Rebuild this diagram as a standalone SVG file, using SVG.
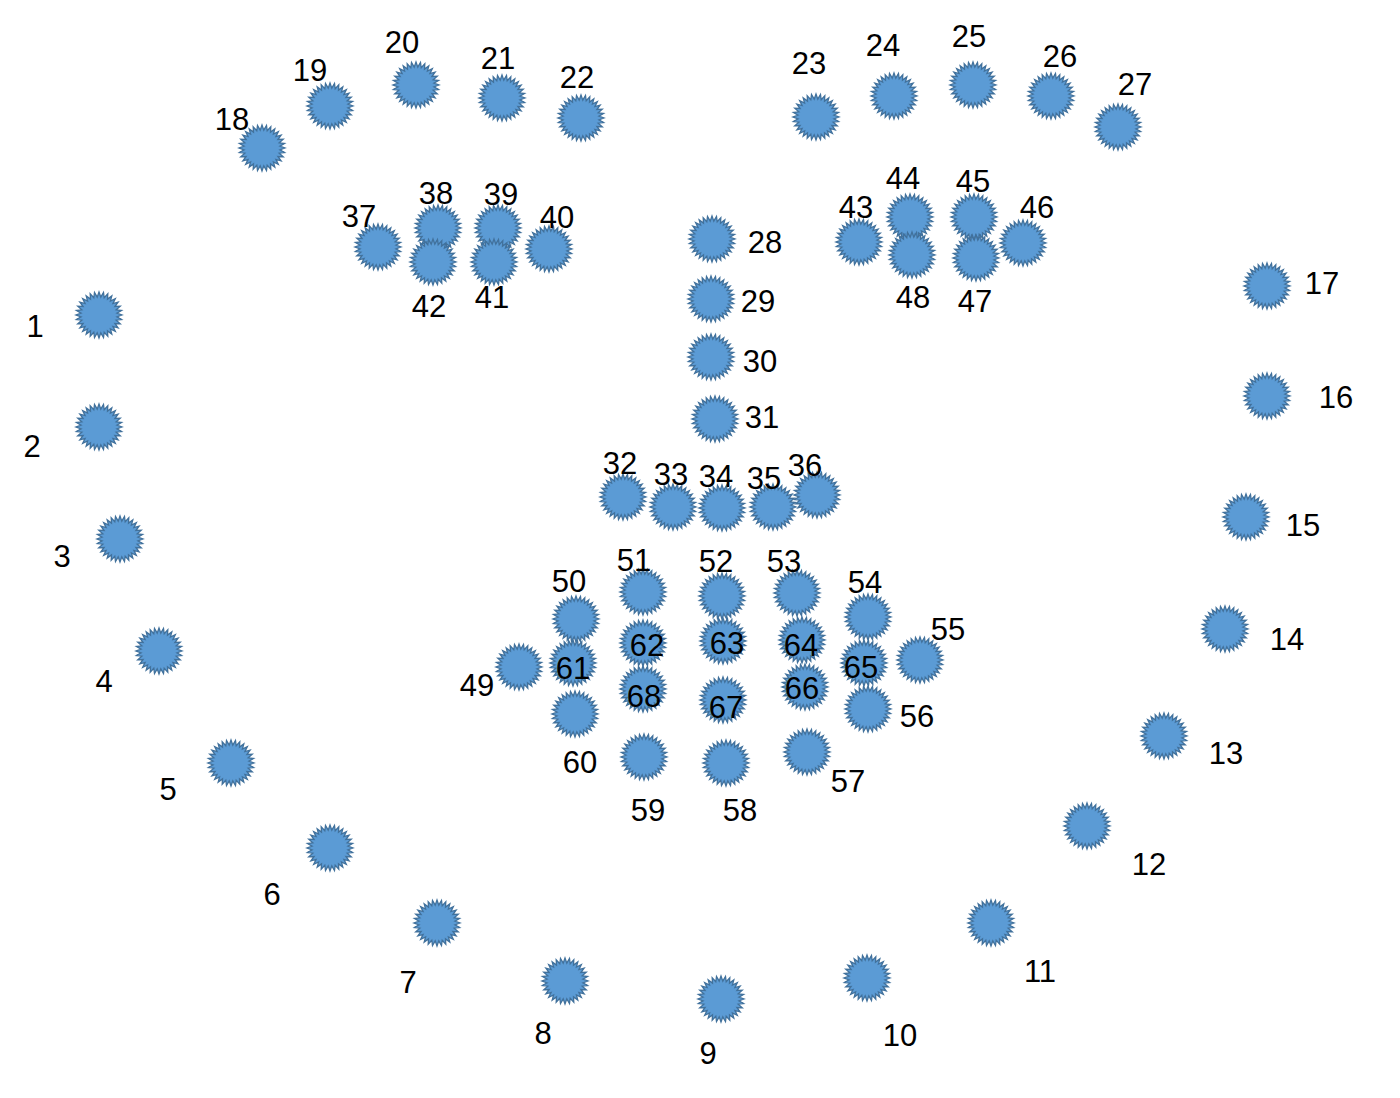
<svg xmlns="http://www.w3.org/2000/svg" xmlns:xlink="http://www.w3.org/1999/xlink" width="1400" height="1098" viewBox="0 0 1400 1098">
<style>
.s{fill:#5B9BD5;stroke:#41719C;stroke-width:1.3}
.t{font-family:"Liberation Sans","Noto Sans",Arial,sans-serif;font-size:31px;fill:#000;text-anchor:middle}
</style>
<defs>
<path id="star" class="s" d="M23,0 17.9,1.8 22.6,4.5 17.2,5.2 21.2,8.8 15.9,8.5 19.1,12.8 13.9,11.4 16.3,16.3 11.4,13.9 12.8,19.1 8.5,15.9 8.8,21.2 5.2,17.2 4.5,22.6 1.8,17.9 0,23 -1.8,17.9 -4.5,22.6 -5.2,17.2 -8.8,21.2 -8.5,15.9 -12.8,19.1 -11.4,13.9 -16.3,16.3 -13.9,11.4 -19.1,12.8 -15.9,8.5 -21.2,8.8 -17.2,5.2 -22.6,4.5 -17.9,1.8 -23,0 -17.9,-1.8 -22.6,-4.5 -17.2,-5.2 -21.2,-8.8 -15.9,-8.5 -19.1,-12.8 -13.9,-11.4 -16.3,-16.3 -11.4,-13.9 -12.8,-19.1 -8.5,-15.9 -8.8,-21.2 -5.2,-17.2 -4.5,-22.6 -1.8,-17.9 0,-23 1.8,-17.9 4.5,-22.6 5.2,-17.2 8.8,-21.2 8.5,-15.9 12.8,-19.1 11.4,-13.9 16.3,-16.3 13.9,-11.4 19.1,-12.8 15.9,-8.5 21.2,-8.8 17.2,-5.2 22.6,-4.5 17.9,-1.8Z"/>
</defs>
<rect width="1400" height="1098" fill="#fff"/>
<g id="connectors"/>
<g id="nodes">
<g id="p1"><use href="#star" x="99" y="315"/><text class="t" x="35" y="337">1</text></g>
<g id="p2"><use href="#star" x="99" y="427"/><text class="t" x="32" y="457">2</text></g>
<g id="p3"><use href="#star" x="120" y="539"/><text class="t" x="62" y="567">3</text></g>
<g id="p4"><use href="#star" x="159" y="651"/><text class="t" x="104" y="692">4</text></g>
<g id="p5"><use href="#star" x="231" y="763"/><text class="t" x="168" y="800">5</text></g>
<g id="p6"><use href="#star" x="330" y="848"/><text class="t" x="272" y="905">6</text></g>
<g id="p7"><use href="#star" x="437" y="923"/><text class="t" x="408" y="993">7</text></g>
<g id="p8"><use href="#star" x="565" y="981"/><text class="t" x="543" y="1044">8</text></g>
<g id="p9"><use href="#star" x="721" y="999"/><text class="t" x="708" y="1064">9</text></g>
<g id="p10"><use href="#star" x="867" y="978"/><text class="t" x="900" y="1046">10</text></g>
<g id="p11"><use href="#star" x="991" y="923"/><text class="t" x="1040" y="982">11</text></g>
<g id="p12"><use href="#star" x="1087" y="826"/><text class="t" x="1149" y="875">12</text></g>
<g id="p13"><use href="#star" x="1164" y="736"/><text class="t" x="1226" y="764">13</text></g>
<g id="p14"><use href="#star" x="1225" y="629"/><text class="t" x="1287" y="650">14</text></g>
<g id="p15"><use href="#star" x="1246" y="517"/><text class="t" x="1303" y="536">15</text></g>
<g id="p16"><use href="#star" x="1267" y="396"/><text class="t" x="1336" y="408">16</text></g>
<g id="p17"><use href="#star" x="1267" y="286"/><text class="t" x="1322" y="294">17</text></g>
<g id="p18"><use href="#star" x="262" y="148"/><text class="t" x="232" y="130">18</text></g>
<g id="p19"><use href="#star" x="330" y="106"/><text class="t" x="310" y="81">19</text></g>
<g id="p20"><use href="#star" x="416" y="85"/><text class="t" x="402" y="53">20</text></g>
<g id="p21"><use href="#star" x="502" y="98"/><text class="t" x="498" y="69">21</text></g>
<g id="p22"><use href="#star" x="581" y="118"/><text class="t" x="577" y="88">22</text></g>
<g id="p23"><use href="#star" x="816" y="117"/><text class="t" x="809" y="74">23</text></g>
<g id="p24"><use href="#star" x="894" y="96"/><text class="t" x="883" y="56">24</text></g>
<g id="p25"><use href="#star" x="973" y="85"/><text class="t" x="969" y="47">25</text></g>
<g id="p26"><use href="#star" x="1051" y="96"/><text class="t" x="1060" y="67">26</text></g>
<g id="p27"><use href="#star" x="1118" y="127"/><text class="t" x="1135" y="95">27</text></g>
<g id="p28"><use href="#star" x="712" y="239"/><text class="t" x="765" y="253">28</text></g>
<g id="p29"><use href="#star" x="711" y="299"/><text class="t" x="758" y="312">29</text></g>
<g id="p30"><use href="#star" x="711" y="357"/><text class="t" x="760" y="372">30</text></g>
<g id="p31"><use href="#star" x="715" y="419"/><text class="t" x="762" y="428">31</text></g>
<g id="p32"><use href="#star" x="623" y="497"/><text class="t" x="620" y="474">32</text></g>
<g id="p33"><use href="#star" x="673" y="507"/><text class="t" x="671" y="485">33</text></g>
<g id="p34"><use href="#star" x="722" y="508"/><text class="t" x="716" y="487">34</text></g>
<g id="p35"><use href="#star" x="773" y="507"/><text class="t" x="764" y="489">35</text></g>
<g id="p36"><use href="#star" x="817" y="495"/><text class="t" x="805" y="476">36</text></g>
<g id="p37"><use href="#star" x="378" y="247"/><text class="t" x="359" y="227">37</text></g>
<g id="p38"><use href="#star" x="438" y="228"/><text class="t" x="436" y="204">38</text></g>
<g id="p39"><use href="#star" x="498" y="228"/><text class="t" x="501" y="205">39</text></g>
<g id="p40"><use href="#star" x="549" y="249"/><text class="t" x="557" y="228">40</text></g>
<g id="p41"><use href="#star" x="494" y="262"/><text class="t" x="492" y="308">41</text></g>
<g id="p42"><use href="#star" x="433" y="262"/><text class="t" x="429" y="317">42</text></g>
<g id="p43"><use href="#star" x="859" y="242"/><text class="t" x="856" y="218">43</text></g>
<g id="p44"><use href="#star" x="910" y="217"/><text class="t" x="903" y="189">44</text></g>
<g id="p45"><use href="#star" x="974" y="217"/><text class="t" x="973" y="192">45</text></g>
<g id="p46"><use href="#star" x="1023" y="243"/><text class="t" x="1037" y="218">46</text></g>
<g id="p47"><use href="#star" x="976" y="258"/><text class="t" x="975" y="312">47</text></g>
<g id="p48"><use href="#star" x="912" y="255"/><text class="t" x="913" y="308">48</text></g>
<g id="p49"><use href="#star" x="519" y="667"/><text class="t" x="477" y="696">49</text></g>
<g id="p50"><use href="#star" x="576" y="619"/><text class="t" x="569" y="592">50</text></g>
<g id="p51"><use href="#star" x="643" y="592"/><text class="t" x="634" y="571">51</text></g>
<g id="p52"><use href="#star" x="722" y="596"/><text class="t" x="716" y="572">52</text></g>
<g id="p53"><use href="#star" x="797" y="593"/><text class="t" x="784" y="572">53</text></g>
<g id="p54"><use href="#star" x="868" y="617"/><text class="t" x="865" y="593">54</text></g>
<g id="p55"><use href="#star" x="920" y="660"/><text class="t" x="948" y="640">55</text></g>
<g id="p56"><use href="#star" x="868" y="709"/><text class="t" x="917" y="727">56</text></g>
<g id="p57"><use href="#star" x="807" y="752"/><text class="t" x="848" y="792">57</text></g>
<g id="p58"><use href="#star" x="726" y="763"/><text class="t" x="740" y="821">58</text></g>
<g id="p59"><use href="#star" x="644" y="757"/><text class="t" x="648" y="821">59</text></g>
<g id="p60"><use href="#star" x="575" y="714"/><text class="t" x="580" y="773">60</text></g>
<g id="p61"><use href="#star" x="573" y="663"/><text class="t" x="573" y="679">61</text></g>
<g id="p62"><use href="#star" x="643" y="643"/><text class="t" x="647" y="656">62</text></g>
<g id="p63"><use href="#star" x="723" y="641"/><text class="t" x="727" y="654">63</text></g>
<g id="p64"><use href="#star" x="802" y="640"/><text class="t" x="801" y="656">64</text></g>
<g id="p65"><use href="#star" x="864" y="663"/><text class="t" x="861" y="678">65</text></g>
<g id="p66"><use href="#star" x="805" y="687"/><text class="t" x="802" y="699">66</text></g>
<g id="p67"><use href="#star" x="723" y="700"/><text class="t" x="726" y="718">67</text></g>
<g id="p68"><use href="#star" x="643" y="689"/><text class="t" x="644" y="707">68</text></g>
</g>
</svg>
